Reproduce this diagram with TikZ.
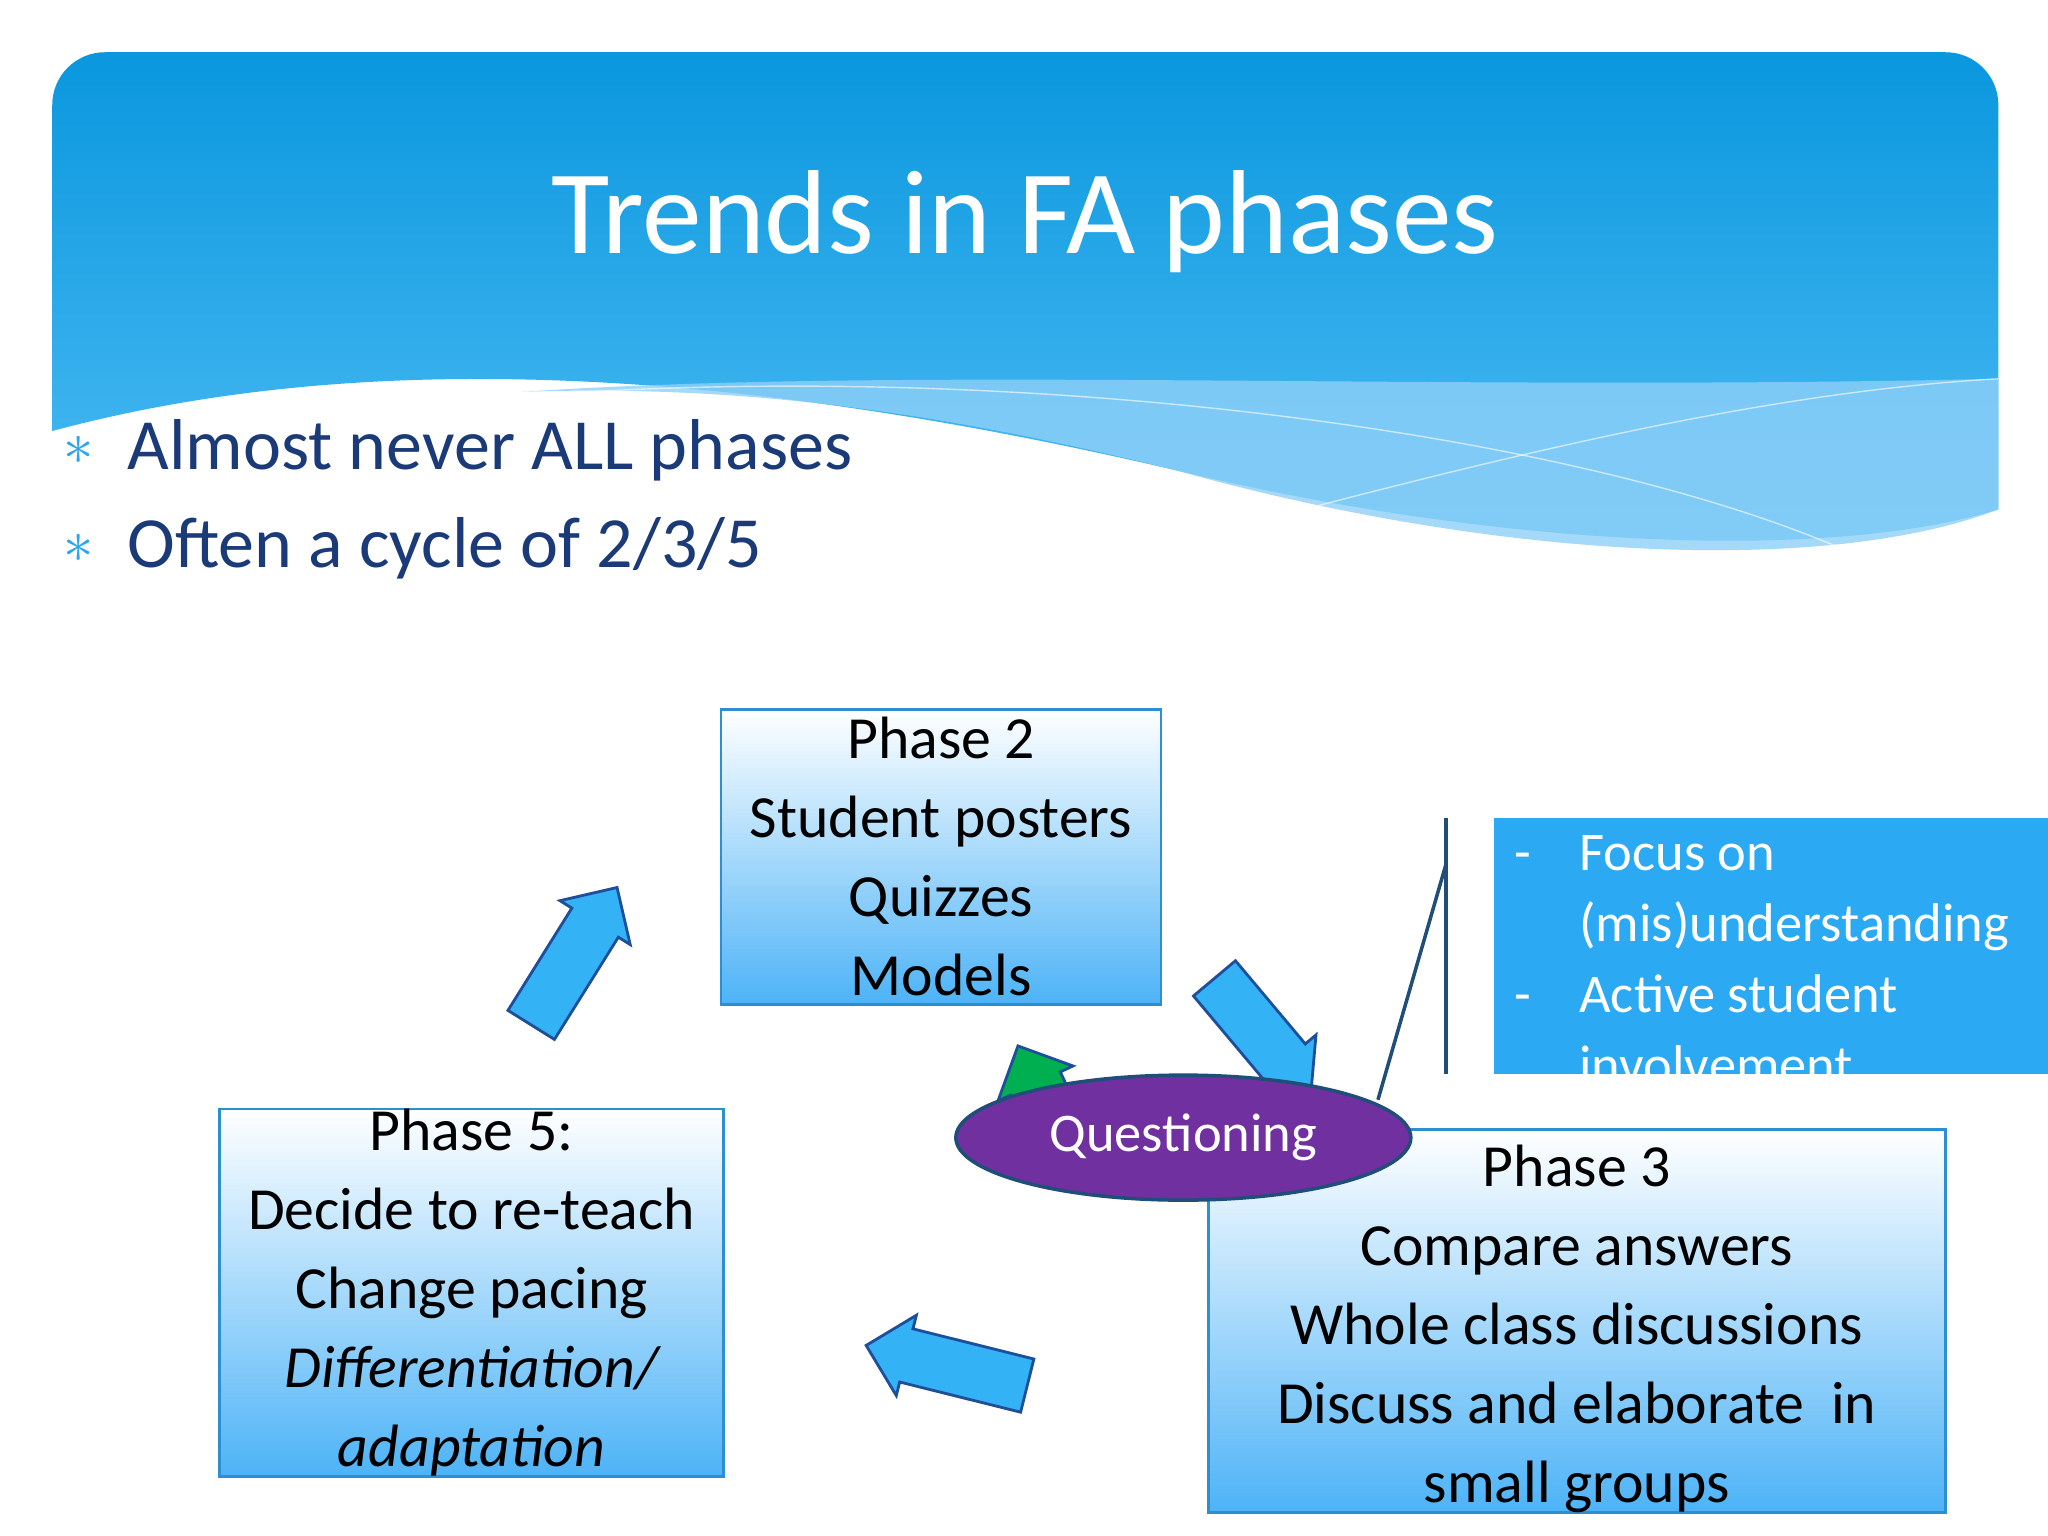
\documentclass[tikz,border=0pt]{standalone}
\usepackage{fontspec}
\setmainfont{Carlito}
\usetikzlibrary{shapes.arrows,shapes.geometric}
\definecolor{hdrA}{HTML}{0A97DE}
\definecolor{hdrB}{HTML}{4FBDF5}
\definecolor{waveA}{HTML}{8FD0F8}
\definecolor{boxB}{HTML}{4DB3F7}
\definecolor{boxLine}{HTML}{2E8FD0}
\definecolor{bulletTxt}{HTML}{1B3A78}
\definecolor{bulletStar}{HTML}{2AA6EE}
\definecolor{callout}{HTML}{2BA9F2}
\definecolor{purp}{HTML}{7030A0}
\definecolor{teal}{HTML}{1F4E79}
\definecolor{arrowFill}{HTML}{33B3F5}
\definecolor{arrowLine}{HTML}{1F4E9A}
\definecolor{grn}{HTML}{00B050}
\tikzset{
 phase/.style={draw=boxLine, line width=0.8pt, top color=white, bottom color=boxB, align=center, font=\fontsize{17}{22.5}\selectfont, inner sep=0pt, anchor=north west},
 blk/.style={single arrow, draw=arrowLine, fill=arrowFill, line width=0.8pt, single arrow head extend=0.14cm, inner xsep=0pt, inner ysep=0.26cm},
 bul/.style={anchor=west, text=bulletTxt, font=\fontsize{20.5}{24}\selectfont},
 star/.style={anchor=center, text=bulletStar, font=\fontsize{18}{22}\selectfont}
}
\begin{document}
\begin{tikzpicture}[x=0.013061cm,y=-0.013061cm]
\useasboundingbox (0,0) rectangle (1568,1176);
\fill[white] (0,0) rectangle (1568,1176);
% header
\shade[top color=hdrA, bottom color=hdrB, rounded corners=15] (40,330) -- (40,40) -- (1530,40) [sharp corners] -- (1530,390) .. controls (1400,430) and (1150,420) .. (900,360) .. controls (600,290) and (300,260) .. (40,330) -- cycle;
\fill[waveA, opacity=0.8] (400,300) .. controls (700,280) and (1100,300) .. (1530,290) -- (1530,390) .. controls (1400,440) and (1150,430) .. (900,360) .. controls (700,310) and (550,295) .. (400,300) -- cycle;
\draw[white, opacity=0.6] (450,300) .. controls (800,280) and (1200,330) .. (1410,420);
\draw[white, opacity=0.6] (960,400) .. controls (1150,350) and (1350,300) .. (1530,290);
\node[text=white, font=\fontsize{34}{40}\selectfont] (title) at (785,170) {Trends in FA phases};
% bullets
\node[star] (s1) at (60,345) {$\ast$};
\node[bul] (b1) at (88,345) {Almost never ALL phases};
\node[star] (s2) at (60,420) {$\ast$};
\node[bul] (b2) at (88,420) {Often a cycle of 2/3/5};
% boxes
\node[phase, minimum width=4.4cm, minimum height=2.95cm] (p2) at (551,542) {Phase 2\\Student posters\\Quizzes\\Models};
\node[phase, minimum width=5.04cm, minimum height=3.64cm] (p5) at (167,848) {Phase 5:\\Decide to re-teach\\Change pacing\\\itshape Differentiation/\\\itshape adaptation};
\node[phase, minimum width=7.37cm, minimum height=3.64cm] (p3) at (924,864) {\rule{0pt}{16pt}Phase 3\\Compare answers\\Whole class discussions\\Discuss and elaborate\ \ in\\small groups};
% callout
\node[fill=callout, anchor=north west, minimum width=5.55cm, minimum height=2.56cm, inner sep=0pt] (co) at (1143,626) {};
\node[anchor=north west, text=white, font=\fontsize{15.5}{20.2}\selectfont, align=left] (cot) at (1150,630) {\makebox[0.65cm][l]{-}Focus on\\\makebox[0.65cm][l]{}(mis)understanding\\\makebox[0.65cm][l]{-}Active student\\\makebox[0.65cm][l]{}involvement};
\coordinate (vt) at (1107,626);
\coordinate (vb) at (1107,822);
\coordinate (vk) at (1107,662);
\coordinate (lend) at (1055,842);
\draw[teal, line width=1pt] (vt) -- (vb);
\draw[teal, line width=1pt] (vk) -- (lend);
% arrows
\node[blk, fill=grn, minimum height=1.0cm, rotate=115] (ga) at (800,845) {};
\node[blk, minimum height=1.62cm, rotate=58] (a1) at (434,741) {};
\node[blk, minimum height=1.5cm, rotate=-50] (a2) at (960,785) {};
\node[blk, minimum height=1.66cm, rotate=166] (a3) at (735,1048) {};
% ellipse
\node[ellipse, draw=teal, fill=purp, line width=1pt, minimum width=4.55cm, minimum height=1.25cm, inner sep=0pt, text=white, font=\fontsize{15.5}{19}\selectfont] (q) at (906,871) {Questioning};
\end{tikzpicture}
\end{document}
